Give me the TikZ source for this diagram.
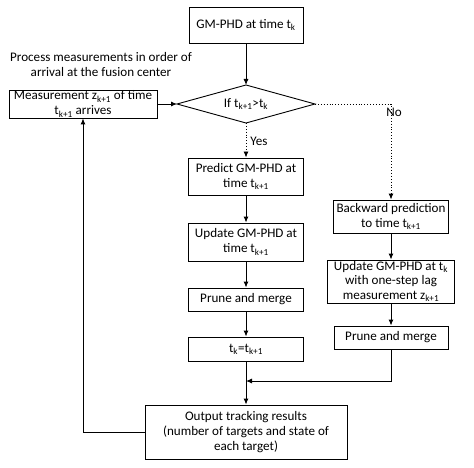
\documentclass[tikz,border=0pt]{standalone}
\usepackage{fontspec}
\setmainfont{Carlito}
\usetikzlibrary{arrows.meta}
\newcommand{\tsub}[1]{\textsubscript{#1}}
\begin{document}
\begin{tikzpicture}[x=1pt,y=-1pt,
  font=\fontsize{13.1}{15}\selectfont,
  box/.style={draw, line width=0.9pt, inner sep=0pt, align=center},
  arr/.style={-{Latex[length=6pt,width=5pt]}, line width=0.9pt},
  dots/.style={dotted, line width=0.9pt},
  lbl/.style={inner sep=1pt, align=center}
]
\useasboundingbox[fill=white] (0,0) rectangle (474,468);

% top box
\node[box, minimum width=114, minimum height=36] (gm) at (246,25) {GM-PHD at time t\tsub{k}};

% diamond
\coordinate (dT) at (246,85);
\coordinate (dR) at (315,104);
\coordinate (dB) at (246,123);
\coordinate (dL) at (177,104);
\draw[line width=0.9pt] (dT) -- (dR) -- (dB) -- (dL) -- cycle;
\node[lbl] (dtext) at (246,104) {If t\tsub{k+1}>t\tsub{k}};

% left side
\node[lbl] (proc) at (101,64.5) {Process measurements in order of\\arrival at the fusion center};
\node[box, minimum width=148, minimum height=28] (meas) at (83,104) {Measurement z\tsub{k+1} of time\\t\tsub{k+1} arrives};

% left column
\node[box, minimum width=115, minimum height=37] (pred) at (246,176.5) {Predict GM-PHD at\\time t\tsub{k+1}};
\node[box, minimum width=115, minimum height=38] (upd) at (246,242) {Update GM-PHD at\\time t\tsub{k+1}};
\node[box, minimum width=115, minimum height=23] (prL) at (246,299.5) {Prune and merge};
\node[box, minimum width=115, minimum height=24] (tk) at (246,349) {t\tsub{k}=t\tsub{k+1}};
\node[box, minimum width=202, minimum height=54] (out) at (246,432) {Output tracking results\\(number of targets and state of\\each target)};

% right column
\node[box, minimum width=115, minimum height=33] (back) at (391,216.5) {Backward prediction\\to time t\tsub{k+1}};
\node[box, minimum width=127, minimum height=43, font=\fontsize{13.1}{14.2}\selectfont] (updR) at (391,281.5) {Update GM-PHD at t\tsub{k}\\with one-step lag\\measurement z\tsub{k+1}};
\node[box, minimum width=114, minimum height=23] (prR) at (391,337.5) {Prune and merge};

\coordinate (mg) at (246,381);

% labels
\node[lbl] (yes) at (259,141) {Yes};
\node[lbl] (no) at (394,112) {No};

% connectors
\draw[arr] (gm.south) -- (dT);
\draw[arr] (meas.east) -- (dL);
\draw[dots, arr] (dB) -- (pred.north);
\draw[dots, arr] (dR) -| (back.north);
\draw[arr] (pred.south) -- (upd.north);
\draw[arr] (upd.south) -- (prL.north);
\draw[arr] (prL.south) -- (tk.north);
\draw[arr] (tk.south) -- (out.north);
\draw[arr] (back.south) -- (updR.north);
\draw[arr] (updR.south) -- (prR.north);
\draw[arr] (prR.south) |- (mg);
\draw[arr] (out.west) -| (meas.south);
\end{tikzpicture}
\end{document}
